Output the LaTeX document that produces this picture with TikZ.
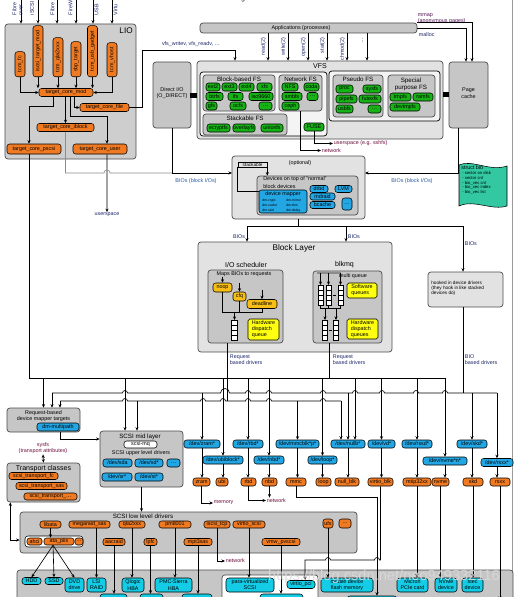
\documentclass[tikz,border=0pt]{standalone}
\usepackage{fontspec}
\setmainfont{Liberation Sans}
\usetikzlibrary{arrows.meta,fit,positioning}

\definecolor{orn}{HTML}{F07A22}
\definecolor{grn}{HTML}{16B216}
\definecolor{devblue}{HTML}{22A6E4}
\definecolor{hwcyan}{HTML}{14CCE6}
\definecolor{ylw}{HTML}{F6BE16}
\definecolor{hwylw}{HTML}{FFFF10}
\definecolor{boxgray}{HTML}{C6C6C6}
\definecolor{liogray}{HTML}{CECECE}
\definecolor{lightbox}{HTML}{E2E2E2}
\definecolor{inwhite}{HTML}{F4F4F4}
\definecolor{navy}{HTML}{1A2468}
\definecolor{biosblue}{HTML}{2456A0}
\definecolor{maroon}{HTML}{6A0A3C}
\definecolor{purp}{HTML}{501050}
\definecolor{biocol}{HTML}{33C8A2}

\newcommand{\szT}{\fontsize{2.9}{3.2}\selectfont}
\newcommand{\szS}{\fontsize{4}{4.5}\selectfont}
\newcommand{\szA}{\fontsize{4.6}{5.2}\selectfont}
\newcommand{\szB}{\fontsize{5.3}{6}\selectfont}
\newcommand{\szBB}{\fontsize{6}{6.8}\selectfont}
\newcommand{\szC}{\fontsize{7}{8}\selectfont}

\tikzset{
  wd/.style={minimum width=#1*0.3mm},
  ht/.style={minimum height=#1*0.3mm},
  grp/.style={draw=black!70, fill=boxgray, rounded corners=2.5pt, inner sep=0pt, line width=0.6pt},
  inbox/.style={grp, draw=black, fill=inwhite},
  item/.style={draw=black, rounded corners=2.2pt, inner sep=0.3pt, minimum height=2.4mm, font=\szA, line width=0.45pt},
  orn/.style={item, fill=orn},
  ornv/.style={orn, rotate=90, anchor=west, minimum height=3mm},
  grn/.style={item, fill=grn},
  devn/.style={item, fill=devblue},
  hwn/.style={item, fill=hwcyan, align=center, minimum height=4.2mm, rounded corners=2.5pt},
  ylwn/.style={item, fill=ylw},
  hwq/.style={draw=black, fill=hwylw, rounded corners=1.5pt, font=\szA, align=left, inner sep=0.5pt, line width=0.45pt},
  lbl/.style={font=\szA, text=navy, inner sep=0.5pt},
  ttl/.style={font=\szB, inner sep=0.5pt},
  toplbl/.style={font=\szA, text=navy, rotate=90, anchor=west, align=left, inner sep=0.5pt},
  graylink/.style={draw=black!45},
}

\begin{document}
\begin{tikzpicture}[x=0.3mm, y=-0.3mm, line width=0.55pt, >={Stealth[length=3pt,width=2.6pt]}]
\useasboundingbox (0,0) rectangle (517,597);
\clip (0,0) rectangle (517,597);

\node[font=\szBB] (title) at (258,-1.6) {outlines the Linux storage stack as of Kernel version 4.10};
\draw[black!40, line width=1pt] (512.5,0) -- (512.5,597);

% LIO
\node[grp, fill=liogray, fit={(5,24) (136,159)}] (lio) {};
\node[font=\szC, anchor=north east, inner sep=0] (liolbl) at (133,27) {LIO};
\foreach \x/\dx/\t in {21/-3.5/{Fibre\\over},38/-6/iSCSI,57/-4.5/Fibre,76/-5.5/FireW,93/3.5/USB,112/3.5/Virtu}{
  \draw[->] (\x,0) -- (\x,0 |- lio.north);
  \node[toplbl] at (\x+\dx,16) {\t};
}
\node[ornv, wd=25] (tcmfc) at (20,77) {tcm\_fc};
\node[ornv, wd=51] (iscsit) at (38,77) {iscsi\_target\_mod};
\node[ornv, wd=39] (tcmqla) at (58,77) {tcm\_qla2xxx};
\node[ornv, wd=35] (sbpt) at (76,77) {sbp\_target};
\node[ornv, wd=51] (tcmusb) at (92.5,77) {tcm\_usb\_gadget};
\node[ornv, wd=34] (tcmvh) at (112,77) {tcm\_vhost};
\node[orn, wd=54] (coremod) at (66,92.5) {target\_core\_mod};
\node[orn, wd=49] (corefile) at (104.5,107.5) {target\_core\_file};
\node[orn, wd=57] (coreiblock) at (65.5,127.5) {target\_core\_iblock};
\node[orn, wd=54, ht=10] (corepscsi) at (34,149) {target\_core\_pscsi};
\node[orn, wd=54, ht=10] (coreuser) at (100,149) {target\_core\_user};

\draw[->] (tcmfc.west) |- (coremod.west);
\foreach \n in {iscsit,tcmqla,sbpt,tcmusb}
  \draw[->] (\n.west) -- (\n.west |- coremod.north);
\draw[->] (tcmvh.west) |- (coremod.east);
\draw[->] ([xshift=-3.9mm]coremod.south) -- ++(0,10) -| ([xshift=-1.5mm]corepscsi.north);
\draw[->] (coremod.south -| coreiblock.north) -- (coreiblock.north);
\draw[->] ([xshift=2.4mm]coremod.south) |- (corefile.west);
\draw[->] ([xshift=1.2mm]coremod.south) -- ++(0,20) -| ([xshift=2.1mm]coreuser.north);
\node[lbl] (usrsp) at (107,215) {userspace};
\draw[->] ([xshift=2.1mm]coreuser.south) -- (usrsp.north);

% applications, VFS
\node[grp, fit={(200,23) (417,33)}] (apps) {};
\node[font=\szA] (appslbl) at (301,28) {Applications (processes)};
\node[grp, fill=lightbox, fit={(197,61) (443,139)}] (vfs) {};
\node[font=\szBB] (vfslbl) at (320,66.5) {VFS};
\node[inbox, fit={(200,72) (327,136)}] (vfsa) {};
\node[inbox, fit={(329,71) (440,121)}] (vfsb) {};
\node[grp, fit={(203,75) (275,111)}] (blkfs) {};
\node[grp, fit={(279,75) (322,111)}] (netfs) {};
\node[grp, fit={(203,114) (287,135)}] (stkfs) {};
\node[grp, fit={(333,75) (383,117)}] (psfs) {};
\node[grp, fit={(388,75) (435,117)}] (spfs) {};
\node[ttl] at (239,79.5) {Block-based FS};
\node[ttl] at (300.5,79.5) {Network FS};
\node[ttl] at (245,118.5) {Stackable FS};
\node[ttl] at (358,79.5) {Pseudo FS};
\node[ttl, align=center] at (411,84) {Special\\purpose FS};

\node[grn, wd=14] (ext2) at (213,87) {ext2};
\node[grn, wd=15] (ext3) at (229.5,87) {ext3};
\node[grn, wd=15] (ext4) at (246.5,87) {ext4};
\node[grn, wd=15] (xfs) at (264.5,87) {xfs};
\node[grn, wd=17] (btrfs) at (214.5,96.5) {btrfs};
\node[grn, wd=15] (ifs) at (235.5,96.5) {ifs};
\node[grn, wd=24] (iso) at (261,96.5) {iso9660};
\node[grn, wd=11] (gfs) at (211.5,106) {gfs};
\node[grn, wd=16] (ocfs) at (238,106) {ocfs};
\node[grn, wd=13] (blkmore) at (265.5,106) {\ldots};
\node[grn, wd=16] (nfs) at (290,87) {NFS};
\node[grn, wd=15] (coda) at (311.5,87) {coda};
\node[grn, wd=20] (smbfs) at (292,96.5) {smbfs};
\node[grn, wd=11] (netmore) at (312.5,96.5) {\ldots};
\node[grn, wd=17] (ceph) at (290.5,106) {ceph};
\node[grn, wd=23] (ecryptfs) at (218.5,128) {ecryptfs};
\node[grn, wd=22] (overlayfs) at (244,128) {overlayfs};
\node[grn, wd=22] (unionfs) at (272,128) {unionfs};
\node[grn, wd=20] (fuse) at (314,127) {FUSE};
\node[grn, wd=17] (proc) at (344.5,89) {proc};
\node[grn, wd=18] (sysfsn) at (372,89) {sysfs};
\node[grn, wd=21] (pipefs) at (346.5,99) {pipefs};
\node[grn, wd=22] (futexfs) at (370,99) {futexfs};
\node[grn, wd=17] (usbfs) at (344.5,109) {usbfs};
\node[grn, wd=13] (psmore) at (374.5,109) {\ldots};
\node[grn, wd=21] (tmpfs) at (400.5,97) {tmpfs};
\node[grn, wd=20] (ramfs) at (423,97) {ramfs};
\node[grn, wd=30] (devtmpfs) at (405,107) {devtmpfs};

\foreach \x/\t in {268/read(2),288/write(2),308/open(2),327/stat(2),347/chmod(2),367/\ldots}{
  \draw[->] (\x,0 |- apps.south) -- (\x,0 |- vfs.north);
  \node[rotate=90, anchor=east, font=\szA, text=navy, inner sep=0.5pt] at (\x-4.5,37) {\t};
}

\node[lbl, text=maroon, anchor=west] (usrsp2) at (333,143.5) {userspace (e.g. sshfs)};
\draw[->] (fuse.south) |- (usrsp2.west);
\node[lbl, text=maroon, anchor=west] (netw1) at (321,150.5) {network};
\draw[->] (netfs.south) |- (netw1.west);

\node[grp, fit={(153,62) (191,128)}, font=\szA, align=center] (dio) {Direct I/O\\(O\_DIRECT)};
\node[grp, fit={(449,62) (488,128)}, font=\szA, align=center] (pc) {Page\\cache};
\fill (190,93) rectangle (197,98);
\fill (443,92) rectangle (449,97);

\draw[->] (apps.north east) -| ([xshift=1.05mm]pc.north);
\draw[->] (apps.east) -| ([xshift=-0.75mm]pc.north);
\node[lbl, text=purp, anchor=west, align=left] (mmaplbl) at (417,19) {mmap\\(anonymous pages)};
\node[lbl, anchor=west] (malloclbl) at (418,34.5) {malloc};

\coordinate (vfsw) at (235,50);
\draw[->] (corefile.east) -- ++(13,0) |- (vfsw) -- (vfsw |- vfs.north);
\node[lbl] (vfswlbl) at (191,44) {vfs\_writev, vfs\_readv, \ldots};

% stacked devices
\node[grp, fill=lightbox, fit={(232,156) (365,219)}] (optbox) {};
\node[font=\szA] (optlbl) at (300,163) {(optional)};
\node[draw, fill=lightbox, font=\szS, inner sep=0.3pt, wd=29, ht=5] (stk) at (252.5,164.5) {stackable};
\node[grp, fit={(257,176) (358,215)}] (devtop) {};
\node[font=\szA, anchor=west, inner sep=0] (devtoplbl) at (263,179.5) {Devices on top of "normal"};
\node[font=\szA, anchor=west, inner sep=0] (blkdevlbl) at (263,187) {block devices};
\node[draw=black, fill=devblue, rounded corners=2pt, inner sep=0pt, line width=0.45pt, fit={(259,190) (307,213)}] (dmap) {};
\node[font=\szA, inner sep=0] (dmaplbl) at (283,194.5) {device mapper};
\foreach \y/\a/\b in {200.5/dm-crypt/dm-mirror,205.5/dm-cache/dm-thin,210.5/dm-raid/dm-delay}{
  \node[font=\szT, anchor=west, inner sep=0] at (262,\y) {\a};
  \node[font=\szT, anchor=west, inner sep=0] at (286,\y) {\b};
}
\node[devn, wd=18, ht=7] (drbd) at (319,189) {drbd};
\node[devn, wd=17, ht=7] (lvm) at (343.5,189) {LVM};
\node[devn, wd=25, ht=7] (mdraid) at (322.5,196.5) {mdraid};
\node[devn, wd=25, ht=7] (bcache) at (322.5,205) {bcache};
\node[devn, wd=10, ht=12] (devmore) at (347,204) {\ldots};
\draw[->] (stk.south east) -- (stk.south east |- devtop.north);
\draw (stk.south west) |- ([yshift=-0.6mm]dmap.north west);

\coordinate (bioL) at (232,173);
\coordinate (bioR) at (365,173);
\draw[graylink] (coreiblock.south) |- (104,173) arc[start angle=180,end angle=360,radius=3] -- (dio.south |- bioL);
\draw[->] (dio.south) |- (bioL);
\draw[->] ([xshift=-3.15mm]pc.south) |- (bioR);
\node[lbl, text=biosblue] (biosl) at (196,181) {BIOs (block I/Os)};
\node[lbl, text=biosblue] (biosr) at (412,181) {BIOs (block I/Os)};

% struct bio
\draw[fill=biocol, line width=0.45pt] (459,165) .. controls (472,159) and (490,172) .. (507,166) -- (507,206) .. controls (492,211) and (474,199) .. (459,206) -- cycle;
\node[font=\szA, anchor=north west, inner sep=0] (biottl) at (461,165.5) {struct bio};
\node[font=\fontsize{3.6}{4}\selectfont, anchor=north west, align=left, inner sep=0] (biotxt) at (462,171.5) {- sector on disk\\- sector cnt\\- bio\_vec cnt\\- bio\_vec index\\- bio\_vec list};

% block layer
\node[grp, fill=lightbox, fit={(198,242) (392,352)}] (blk) {};
\node[font=\szC] (blklbl) at (294,248) {Block Layer};
\node[grp, fill=lightbox, fit={(428,272) (503,307)}] (hook) {};
\node[font=\fontsize{4}{4.4}\selectfont, anchor=north west, align=left, inner sep=0] (hooklbl) at (431,280.5) {hooked in device drivers\\(they hook in like stacked\\devices do)};

\draw (optbox.south) -- ++(0,7) coordinate (bsplit);
\draw[->] (bsplit) -| ([xshift=-14.4mm]blk.north);
\draw[->] (bsplit) -| ([xshift=15.3mm]blk.north);
\draw[->] (bsplit) -| ([xshift=-0.75mm]hook.north);
\node[lbl, anchor=east] (bios1) at (246,237) {BIOs};
\node[lbl, anchor=west] (bios2) at (347,237) {BIOs};
\node[lbl, anchor=west] (bios3) at (464,244) {BIOs};

\node[font=\szBB] (ioschlbl) at (246,265) {I/O scheduler};
\node[grp, fit={(208,270) (283,343)}] (iosch) {};
\node[font=\szA] (mapslbl) at (244,274.5) {Maps BIOs to requests};
\node[ylwn, wd=19, ht=9] (noop) at (222.5,287.5) {noop};
\node[ylwn, wd=13, ht=9] (cfq) at (239.5,296.5) {cfq};
\node[ylwn, wd=30, ht=9] (deadline) at (262,304) {deadline};
\draw[->] ([yshift=1.8mm]noop.north) -- (noop.north);
\draw[->] ([yshift=2.7mm]cfq.north) -- (cfq.north);
\draw[->] ([yshift=2.7mm]deadline.north) -- (deadline.north);
\coordinate (iomerge) at (234.5,312);
\coordinate (ioq) at (234.5,320);
\draw (noop.south) |- (deadline.south |- iomerge) -- (deadline.south);
\draw (cfq.south) -- (cfq.south |- iomerge);
\draw[->] (iomerge) -- (ioq);
\foreach \i in {0,...,3}
  \draw[fill=white, line width=0.45pt] (231.5,320+5*\i) rectangle ++(6,5);
\node[hwq, wd=31, ht=21] (hwdq) at (263.5,329.5) {Hardware\\dispatch\\queue};

\node[font=\szBB] (mqlbl) at (344.5,265) {blkmq};
\node[grp, fit={(313,271) (382,343)}] (mq) {};
\node[font=\szA] (multilbl) at (353,276.5) {multi queue};
\draw[black!45, line width=1.4pt] (317,273) -- (341,273);
\foreach \x in {320.5,328.5,340.5}{
  \draw[->] (\x,273) -- (\x,285);
  \foreach \i in {0,...,3}
    \draw[fill=white, line width=0.45pt] (\x-2.5,285+5*\i) rectangle ++(5,5);
}
\draw (333,295) -- (336,295);
\draw (320.5,305) |- (340.5,308) -- (340.5,305);
\draw (328.5,305) -- (328.5,308);
\foreach \x in {325,336}{
  \draw[->] (\x,308) -- (\x,320);
  \foreach \i in {0,...,3}
    \draw[fill=white, line width=0.45pt] (\x-2.5,320+5*\i) rectangle ++(5,5);
}
\draw (329,330) -- (332,330);
\node[hwq, wd=30, ht=15] (swq) at (362,290.5) {Software\\queues};
\node[hwq, wd=31, ht=20] (hwqs) at (362.5,329) {Hardware\\dispatch\\queues};

% driver buses
\coordinate (cA) at (0,378);
\coordinate (cB) at (0,393);
\coordinate (cC) at (0,401);
\draw ([xshift=-5.55mm]iosch.south) -- ([xshift=-5.55mm]iosch.south |- cC);
\draw ([xshift=-5.55mm]mq.south) -- ([xshift=-5.55mm]mq.south |- cA);
\draw ([xshift=-0.75mm]hook.south) -- ([xshift=-0.75mm]hook.south |- cB);
\node[lbl, anchor=north west, align=left] (rqlbl1) at (229,354) {Request\\based drivers};
\node[lbl, anchor=north west, align=left] (rqlbl2) at (332,354) {Request\\based drivers};
\node[lbl, anchor=north west, align=left] (biolbl) at (464,354) {BIO\\based drivers};

% request based dm, scsi
\node[grp, fit={(7,408) (80,432)}] (rqdm) {};
\node[font=\szA, align=center] (rqdmlbl) at (43.5,416.5) {Request-based\\device mapper targets};
\node[devn, wd=42, ht=8] (dmmp) at (58,427) {dm-multipath};
\node[grp, fit={(100,431) (183,487)}] (scsimid) {};
\node[ttl] (scsimidlbl) at (140,436.5) {SCSI mid layer};
\node[item, fill=white, wd=33, ht=7] (scsimq) at (140.5,444.5) {scsi-mq};
\node[font=\szA] (uldlbl) at (141,453) {SCSI upper level drivers};
\node[devn, wd=29] (devsda) at (117.5,463) {/dev/sda};
\node[devn, wd=28] (devsd) at (149,463) {/dev/sd*};
\node[devn, wd=13] (devmore2) at (173.5,463) {\ldots};
\node[devn, wd=30] (devsr) at (117,477) {/dev/sr*};
\node[devn, wd=28] (devst) at (149,477) {/dev/st*};

\node[devn, wd=36] (devzram) at (202,444) {/dev/zram*};
\node[devn, wd=40] (devubi) at (223,460) {/dev/ubiblock*};
\node[devn, wd=30] (devrbd) at (248,444) {/dev/rbd*};
\node[devn, wd=30] (devnbd) at (269,460) {/dev/nbd*};
\node[devn, wd=43] (devmmc) at (297.5,444) {/dev/mmcblk*p*};
\node[devn, wd=29] (devloop) at (322.5,460) {/dev/loop*};
\node[devn, wd=34] (devnullb) at (348,444) {/dev/nullb*};
\node[devn, wd=27] (devvd) at (381.5,444) {/dev/vd*};
\node[devn, wd=30] (devrssd) at (417,444) {/dev/rssd*};
\node[devn, wd=44] (devnvme) at (445,461) {/dev/nvme*n*};
\node[devn, wd=30] (devskd) at (472,444) {/dev/skd*};
\node[devn, wd=32] (devrsxx) at (497,462.5) {/dev/rsxx*};

\coordinate (dmB) at ([xshift=2.55mm]rqdm.north);
\coordinate (dmC) at ([xshift=4.95mm]rqdm.north);
\coordinate (smA) at ([xshift=-4.95mm]scsimid.north);
\coordinate (smC) at ([xshift=-1.35mm]scsimid.north);
\coordinate (nbA) at ([xshift=2.1mm]devnullb.north);
\coordinate (nbC) at ([xshift=-2.1mm]devnullb.north);

\draw ([xshift=-1.5mm]corepscsi.south) |- (devnvme.north |- cA);
\draw (dmB |- cB) \foreach \h/\r in {125/2.5,225/4.5,248/2.5,269/2.5,323/2.5,355/2.5,382/2.5,416/2.5,445/2.5} {-- (\h-\r,393) arc[start angle=180,end angle=360,radius=\r]} -- (devrsxx.north |- cB);
\draw (dmC |- cC) \foreach \h in {125,203,223,248,269,323} {-- (\h-2.5,401) arc[start angle=180,end angle=360,radius=2.5]} -- (nbC |- cC);

\draw[->] (rqdm.north |- cA) -- (rqdm.north);
\draw[->] (dmB |- cB) -- (dmB);
\draw[->] (dmC |- cC) -- (dmC);
\draw[->] (smA |- cA) -- (smA);
\draw[->] (smC |- cC) -- (smC);
\draw[->] (nbA |- cA) -- (nbA);
\draw[->] (devnullb.north |- cB) -- (devnullb.north);
\draw[->] (nbC |- cC) -- (nbC);
\draw[->] (devmmc.north |- cC) -- (devmmc.north);
\foreach \n in {devubi,devrbd,devnbd,devloop,devvd,devrssd,devnvme}
  \draw[->] (\n.north |- cA) -- (\n.north);
\foreach \n in {devzram,devskd,devrsxx}
  \draw[->] (\n.north |- cB) -- (\n.north);

\node[orn, wd=17] (zram) at (201.5,482) {zram};
\node[orn, wd=12] (ubi) at (222,482) {ubi};
\node[orn, wd=15] (rbd) at (248.5,482) {rbd};
\node[orn, wd=15] (nbd) at (269.5,482) {nbd};
\node[orn, wd=20] (mmc) at (296,482) {mmc};
\node[orn, wd=15] (loop) at (323.5,482) {loop};
\node[orn, wd=24] (nullblk) at (347,482) {null\_blk};
\node[orn, wd=25] (virtioblk) at (380.5,482) {virtio\_blk};
\node[orn, wd=28] (mtip) at (417,482) {mtip32xx};
\node[orn, wd=17] (nvme) at (440.5,482) {nvme};
\node[orn, wd=20] (skd) at (473,482) {skd};
\node[orn, wd=20] (rsxx) at (500,482) {rsxx};
\foreach \a/\b in {devzram/zram,devubi/ubi,devrbd/rbd,devnbd/nbd,devmmc/mmc,devloop/loop,devnullb/nullblk,devvd/virtioblk,devrssd/mtip,devnvme/nvme,devskd/skd,devrsxx/rsxx}
  \draw[->] (\a.south) -- (\a.south |- \b.north);

\node[lbl, text=maroon, anchor=west] (mem) at (213,503) {memory};
\draw[->] (zram.south) |- (mem.west);
\node[lbl, text=maroon, anchor=west] (netw2) at (266,500.5) {network};
\draw[->] (rbd.south) |- (netw2.west);
\draw[->] (nbd.south) -- (nbd.south |- netw2.north);

% transport classes
\node[lbl, text=maroon, align=center] (sysfs) at (43,448) {sysfs\\(transport attributes)};
\node[grp, fit={(7,463) (80,502)}] (transp) {};
\node[font=\szBB] (transplbl) at (43.5,468.5) {Transport classes};
\node[orn, wd=49, ht=7] (trfc) at (33.5,476) {scsi\_transport\_fc};
\node[orn, wd=51, ht=7] (trsas) at (41.5,486) {scsi\_transport\_sas};
\node[orn, wd=53, ht=7] (trmore) at (50.5,496.5) {scsi\_transport\_\ldots};
\draw[<->] (sysfs.south) -- (transp.north);
\draw[->] ([xshift=4.95mm]rqdm.south) |- ([yshift=6mm]scsimid.west);

% scsi low level
\node[grp, fit={(20,512) (357,553)}] (scsilow) {};
\node[ttl] (scsilowlbl) at (143,516.5) {SCSI low level drivers};
\node[orn, wd=21, ht=7] (libata) at (50.5,524.5) {libata};
\node[orn, wd=41, ht=7] (megaraid) at (89.5,524.5) {megaraid\_sas};
\node[orn, wd=26, ht=7] (qla) at (132,524.5) {qla2xxx};
\node[orn, wd=32, ht=7] (pm8001) at (175,524.5) {pm8001};
\node[orn, wd=26, ht=7] (iscsitcp) at (217,524.5) {iscsi\_tcp};
\node[orn, wd=32, ht=7] (virtioscsi) at (249,524.5) {virtio\_scsi};
\node[orn, wd=10, ht=9] (ufs) at (328,523.5) {ufs};
\node[orn, wd=12, ht=9] (llmore) at (345,523.5) {\ldots};
\node[draw=black, fill=white, rounded corners=2.5pt, inner sep=0pt, line width=0.45pt, fit={(25,536) (83,547)}] (atagrp) {};
\node[orn, wd=15, ht=7] (ahci) at (34.5,541.5) {ahci};
\node[orn, wd=30, ht=7] (atapiix) at (59,541.5) {ata\_piix};
\node[orn, wd=8, ht=7] (atamore) at (79,541.5) {\ldots};
\node[orn, wd=22, ht=7] (aacraid) at (114,542) {aacraid};
\node[orn, wd=13, ht=7] (lpfc) at (150.5,542) {lpfc};
\node[orn, wd=28, ht=7] (mpt3sas) at (198,542) {mpt3sas};
\node[orn, wd=38, ht=7] (vmwpv) at (281,542) {vmw\_pvscsi};
\draw[->] (libata.south) -- (libata.south |- atapiix.north);
\draw[->] (scsimid.south) -- (scsimid.south |- scsilow.north);
\draw[<->] ([xshift=1.1mm]transp.south west) |- ([yshift=-2.25mm]scsilow.west);
\node[lbl, text=maroon, anchor=west] (netw3) at (225,561) {network};
\draw[->] (iscsitcp.south) |- (netw3.west);

% hardware
\node[grp, fit={(17,570) (513,625)}] (hwbox) {};
\node[draw=black!70, fill=white, rounded corners=2.5pt, inner sep=0pt, fit={(222,575) (318,625)}] (virtbox) {};
\node[hwn, wd=19, ht=7] (hdd) at (31.5,581) {HDD};
\node[hwn, wd=18, ht=7] (ssd) at (54,581) {SSD};
\node[hwn, wd=19, ht=14] (dvd) at (74.5,585) {DVD\\drive};
\node[hwn, wd=19, ht=14] (lsi) at (96.5,585) {LSI\\RAID};
\node[hwn, wd=22, ht=14] (qlogic) at (133,585) {Qlogic\\HBA};
\node[hwn, wd=37, ht=14] (pmc) at (173.5,585) {PMC-Sierra\\HBA};
\node[hwn, wd=48, ht=14] (pvscsi) at (250,585) {para-virtualized\\SCSI};
\node[hwn, wd=28, ht=8] (vpci) at (301,584.5) {virtio\_pci};
\node[hwn, wd=52, ht=14] (mobile) at (347,585) {mobile device\\flash memory};
\node[hwn, wd=31, ht=14] (micron) at (412.5,585) {Micron\\PCIe card};
\node[hwn, wd=22, ht=14] (nvmedev) at (446,585) {NVMe\\device};
\node[hwn, wd=21, ht=14] (stec) at (472.5,585) {stec\\device};
\node[hwn, wd=27, ht=12] (pb1) at (113.5,600) {};
\node[hwn, wd=23, ht=12] (pb2) at (151.5,600) {};
\node[hwn, wd=30, ht=12] (pb3) at (197,600) {};
\node[hwn, wd=43, ht=12] (pb4) at (281.5,600) {};
\node[hwn, wd=50, ht=12] (pb5) at (372,602) {};
\coordinate (rsxxout) at (500,600);

\draw[->] ([xshift=-1.8mm]atapiix.south) -- (hdd.north);
\draw[->] ([xshift=-1.8mm]atapiix.south) -- (ssd.north);
\draw[->] ([xshift=-1.8mm]atapiix.south) -- (dvd.north);
\draw[->] (lsi.north |- megaraid.south) -- (lsi.north);
\draw[->] (aacraid.south) -- (aacraid.south |- pb1.north);
\draw[->] (qla.south) -- (qla.south |- qlogic.north);
\draw[->] (lpfc.south) -- (lpfc.south |- pb2.north);
\draw[->] (pm8001.south) -- (pm8001.south |- pmc.north);
\draw[->] (mpt3sas.south) -- (mpt3sas.south |- pb3.north);
\draw[->] (virtioscsi.south) -- (virtioscsi.south |- pvscsi.north);
\draw[->] (vmwpv.south) -- (vmwpv.south |- pb4.north);
\draw[->] (ufs.south) -- (ufs.south |- mobile.north);
\draw[->] (mmc.south) -- ++(0,11) -| ([xshift=1.5mm]pb5.north);
\draw[->] (virtioblk.south) |- (379.5,560) arc[start angle=0,end angle=-180,radius=2.5] -- (330.5,560) arc[start angle=0,end angle=-180,radius=2.5] -| ([xshift=1.2mm]vpci.north);
\draw[->] (mtip.south) -- (mtip.south |- micron.north);
\draw[->] (nvme.south) -- (nvme.south |- nvmedev.north);
\draw[->] (skd.south) -- (skd.south |- stec.north);
\draw[->] (rsxx.south) -- (rsxxout);

\node[text=white!72!gray, font=\fontsize{12.5}{14}\selectfont, opacity=0.85] (wm) at (384,577) {https://blog.csdn.net/neo949332116};
\end{tikzpicture}
\end{document}
